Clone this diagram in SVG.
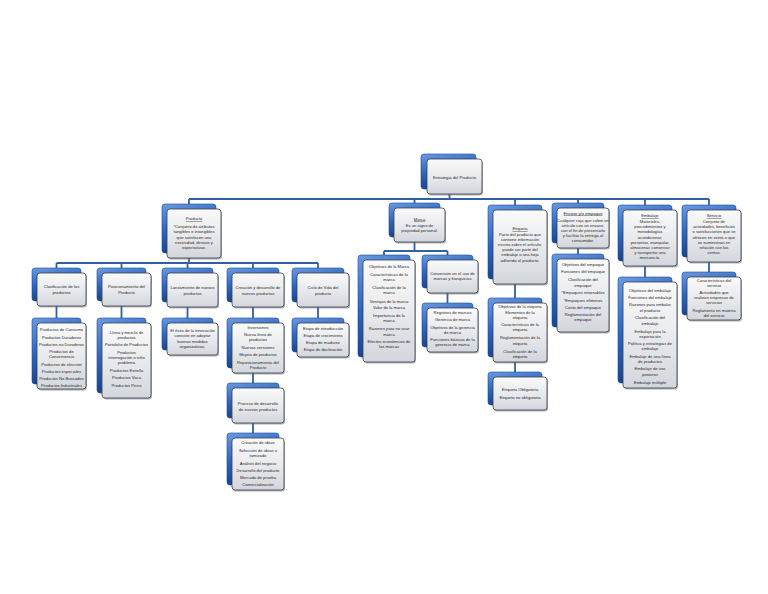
<svg xmlns="http://www.w3.org/2000/svg" width="768" height="594" viewBox="0 0 768 594">
<defs>
<linearGradient id="gb" x1="0" y1="0" x2="0.3" y2="1">
<stop offset="0" stop-color="#6a9be3"/>
<stop offset="0.5" stop-color="#2f66c0"/>
<stop offset="1" stop-color="#173f85"/>
</linearGradient>
<linearGradient id="gf" x1="0" y1="0" x2="0" y2="1">
<stop offset="0" stop-color="#fafafa"/>
<stop offset="0.5" stop-color="#e9eaed"/>
<stop offset="1" stop-color="#d3d6dc"/>
</linearGradient>
</defs>
<style>
.bk{fill:url(#gb);stroke:#1d4a93;stroke-width:0.6}
.sh{fill:#6b6f78;opacity:0.55}
.fr{fill:url(#gf);stroke:#3b404b;stroke-width:0.8}
.t{font-family:"Liberation Sans",Arial,sans-serif;font-size:4.15px;fill:#2a2a2a;text-anchor:middle;dominant-baseline:central}
.u{text-decoration:underline}
.c{fill:none;stroke:#33609f;stroke-width:1.8}
</style>
<rect width="768" height="594" fill="#ffffff"/>

<g id="connectors">
<path class="c" d="M449.5 194V199M189 199H709M189 199V204M414.5 199V203M515 199V205M578 199V203M645 199V205M709 199V205"/>
<path class="c" d="M189 258V263M56.5 263H318M56.5 263V268M121.5 263V268M187.5 263V268M253 263V268M318 263V268"/>
<path class="c" d="M56.5 306V318M121.5 306V318M187.5 307V318M253 307V318M318 307V318M253 373V383M253 423V433"/>
<path class="c" d="M414.5 242V251M384 251H447.5M384 251V255M447.5 251V255M447.5 293V303"/>
<path class="c" d="M515 284V298M515 362V372M578 248V254M645 266V277M709 262V272"/>
</g>

<g id="n-root">
<rect class="bk" x="421" y="154" width="55" height="35" rx="3"/>
<rect class="sh" x="428" y="160.5" width="55" height="35" rx="3"/>
<rect class="fr" x="427" y="159" width="55" height="35" rx="3"/>
<text class="t" x="454.5" y="177">Estrategia del Producto</text>
</g>

<g id="n-producto">
<rect class="bk" x="162" y="204" width="54" height="49" rx="3"/>
<rect class="sh" x="168" y="210.5" width="54" height="49" rx="3"/>
<rect class="fr" x="167" y="209" width="54" height="49" rx="3"/>
<text class="t" x="194"><tspan class="u" x="194" y="218">Producto</tspan><tspan x="194" y="226">*Conjunto de atributos</tspan><tspan x="194" y="231.3">tangibles e intangibles</tspan><tspan x="194" y="236.6">que satisfacen una</tspan><tspan x="194" y="241.9">necesidad, deseos y</tspan><tspan x="194" y="247.2">expectativas.</tspan></text>
</g>

<g id="n-marca">
<rect class="bk" x="389" y="203" width="51" height="34" rx="3"/>
<rect class="sh" x="395" y="209.5" width="51" height="34" rx="3"/>
<rect class="fr" x="394" y="208" width="51" height="34" rx="3"/>
<text class="t"><tspan class="u" x="419.5" y="218.5">Marca</tspan><tspan x="419.5" y="225">Es un signo de</tspan><tspan x="419.5" y="230.3">propiedad personal.</tspan></text>
</g>

<g id="n-etiqueta">
<rect class="bk" x="488" y="205" width="54" height="74" rx="3"/>
<rect class="sh" x="494" y="211.5" width="54" height="74" rx="3"/>
<rect class="fr" x="493" y="210" width="54" height="74" rx="3"/>
<text class="t"><tspan class="u" x="520" y="228">Etiqueta</tspan><tspan x="520" y="233.5">Parte del producto que</tspan><tspan x="520" y="238.7">contiene información</tspan><tspan x="520" y="243.9">escrita sobre el artículo;</tspan><tspan x="520" y="249.1">puede ser parte del</tspan><tspan x="520" y="254.3">embalaje o una hoja</tspan><tspan x="520" y="259.5">adherida al producto.</tspan></text>
</g>

<g id="n-envase">
<rect class="bk" x="552" y="203" width="52" height="40" rx="3"/>
<rect class="sh" x="558" y="209.5" width="52" height="40" rx="3"/>
<rect class="fr" x="557" y="208" width="52" height="40" rx="3"/>
<text class="t"><tspan class="u" x="583" y="212.5">Envase y/o empaque</tspan><tspan x="583" y="219.5">Cualquier caja que cubre un</tspan><tspan x="583" y="224.5">artículo con un envase,</tspan><tspan x="583" y="229.5">con el fin de preservarlo</tspan><tspan x="583" y="234.5">y facilitar la entrega al</tspan><tspan x="583" y="239.5">consumidor.</tspan></text>
</g>

<g id="n-embalaje">
<rect class="bk" x="618" y="205" width="54" height="56" rx="3"/>
<rect class="sh" x="624" y="211.5" width="54" height="56" rx="3"/>
<rect class="fr" x="623" y="210" width="54" height="56" rx="3"/>
<text class="t"><tspan class="u" x="650" y="215">Embalaje</tspan><tspan x="650" y="221">Materiales,</tspan><tspan x="650" y="226.2">procedimientos y</tspan><tspan x="650" y="231.4">metodologías</tspan><tspan x="650" y="236.6">acondicionar,</tspan><tspan x="650" y="241.8">presentar, manipular,</tspan><tspan x="650" y="247">almacenar, conservar</tspan><tspan x="650" y="252.2">y transportar una</tspan><tspan x="650" y="257.4">mercancía.</tspan></text>
</g>

<g id="n-servicio">
<rect class="bk" x="682" y="205" width="54" height="52" rx="3"/>
<rect class="sh" x="688" y="211.5" width="54" height="52" rx="3"/>
<rect class="fr" x="687" y="210" width="54" height="52" rx="3"/>
<text class="t"><tspan class="u" x="714" y="215">Servicio</tspan><tspan x="714" y="221">Conjunto de</tspan><tspan x="714" y="226.2">actividades, beneficios</tspan><tspan x="714" y="231.4">o satisfacciones que se</tspan><tspan x="714" y="236.6">ofrecen en venta o que</tspan><tspan x="714" y="241.8">se suministran en</tspan><tspan x="714" y="247">relación con las</tspan><tspan x="714" y="252.2">ventas.</tspan></text>
</g>

<g id="n-clasificacion">
<rect class="bk" x="32" y="268" width="49" height="33" rx="3"/>
<rect class="sh" x="38" y="274.5" width="49" height="33" rx="3"/>
<rect class="fr" x="37" y="273" width="49" height="33" rx="3"/>
<text class="t"><tspan x="61.5" y="286">Clasificación de los</tspan><tspan x="61.5" y="292">productos</tspan></text>
</g>

<g id="n-posicionamiento">
<rect class="bk" x="97" y="268" width="49" height="33" rx="3"/>
<rect class="sh" x="103" y="274.5" width="49" height="33" rx="3"/>
<rect class="fr" x="102" y="273" width="49" height="33" rx="3"/>
<text class="t"><tspan x="126.5" y="286">Posicionamiento del</tspan><tspan x="126.5" y="292">Producto</tspan></text>
</g>

<g id="n-lanzamiento">
<rect class="bk" x="162" y="268" width="51" height="34" rx="3"/>
<rect class="sh" x="168" y="274.5" width="51" height="34" rx="3"/>
<rect class="fr" x="167" y="273" width="51" height="34" rx="3"/>
<text class="t"><tspan x="192.5" y="287">Lanzamiento de nuevos</tspan><tspan x="192.5" y="292.5">productos</tspan></text>
</g>

<g id="n-creacion">
<rect class="bk" x="227" y="268" width="52" height="34" rx="3"/>
<rect class="sh" x="233" y="274.5" width="52" height="34" rx="3"/>
<rect class="fr" x="232" y="273" width="52" height="34" rx="3"/>
<text class="t"><tspan x="258" y="287">Creación y desarrollo de</tspan><tspan x="258" y="292.5">nuevos productos</tspan></text>
</g>

<g id="n-ciclo">
<rect class="bk" x="292" y="268" width="52" height="34" rx="3"/>
<rect class="sh" x="298" y="274.5" width="52" height="34" rx="3"/>
<rect class="fr" x="297" y="273" width="52" height="34" rx="3"/>
<text class="t"><tspan x="323" y="287">Ciclo de Vida del</tspan><tspan x="323" y="292.5">producto</tspan></text>
</g>

<g id="n-clasificacion-lista">
<rect class="bk" x="32" y="318" width="49" height="66" rx="3"/>
<rect class="sh" x="38" y="324.5" width="49" height="66" rx="3"/>
<rect class="fr" x="37" y="323" width="49" height="66" rx="3"/>
<text class="t"><tspan x="61.5" y="329.3">Productos de Consumo</tspan><tspan x="61.5" y="336.5">Productos Duraderos</tspan><tspan x="61.5" y="343.8">Productos no Duraderos</tspan><tspan x="61.5" y="351">Productos de</tspan><tspan x="61.5" y="356.3">Conveniencia</tspan><tspan x="61.5" y="363.5">Productos de elección</tspan><tspan x="61.5" y="370.8">Productos especiales</tspan><tspan x="61.5" y="378">Productos No Buscados</tspan><tspan x="61.5" y="385.2">Productos Industriales</tspan></text>
</g>

<g id="n-posicionamiento-lista">
<rect class="bk" x="97" y="318" width="49" height="75" rx="3"/>
<rect class="sh" x="103" y="324.5" width="49" height="75" rx="3"/>
<rect class="fr" x="102" y="323" width="49" height="75" rx="3"/>
<text class="t"><tspan x="126.5" y="331.7">Línea y mezcla de</tspan><tspan x="126.5" y="337">productos</tspan><tspan x="126.5" y="344.3">Portafolio de Productos</tspan><tspan x="126.5" y="351.7">Productos</tspan><tspan x="126.5" y="356.9">interrogación o niño</tspan><tspan x="126.5" y="362.1">problema</tspan><tspan x="126.5" y="370">Productos Estrella</tspan><tspan x="126.5" y="377.3">Productos Vaca</tspan><tspan x="126.5" y="384.7">Productos Perro</tspan></text>
</g>

<g id="n-lanzamiento-exito">
<rect class="bk" x="162" y="318" width="51" height="32" rx="3"/>
<rect class="sh" x="168" y="324.5" width="51" height="32" rx="3"/>
<rect class="fr" x="167" y="323" width="51" height="32" rx="3"/>
<text class="t"><tspan x="192.5" y="330">El éxito de la innovación</tspan><tspan x="192.5" y="335.3">consiste en adoptar</tspan><tspan x="192.5" y="340.6">buenas medidas</tspan><tspan x="192.5" y="346.4">organizativas.</tspan></text>
</g>

<g id="n-creacion-lista">
<rect class="bk" x="227" y="318" width="52" height="50" rx="3"/>
<rect class="sh" x="233" y="324.5" width="52" height="50" rx="3"/>
<rect class="fr" x="232" y="323" width="52" height="50" rx="3"/>
<text class="t"><tspan x="258" y="327">Inversiones</tspan><tspan x="258" y="334">Nueva línea de</tspan><tspan x="258" y="339.2">productos</tspan><tspan x="258" y="347">Nuevas versiones</tspan><tspan x="258" y="354">Mejora de productos</tspan><tspan x="258" y="361.5">Reposicionamiento del</tspan><tspan x="258" y="366.7">Producto</tspan></text>
</g>

<g id="n-ciclo-etapas">
<rect class="bk" x="292" y="318" width="52" height="34" rx="3"/>
<rect class="sh" x="298" y="324.5" width="52" height="34" rx="3"/>
<rect class="fr" x="297" y="323" width="52" height="34" rx="3"/>
<text class="t"><tspan x="323" y="327.5">Etapa de introducción</tspan><tspan x="323" y="334.5">Etapa de crecimiento</tspan><tspan x="323" y="341.7">Etapa de madurez</tspan><tspan x="323" y="349">Etapa de declinación</tspan></text>
</g>

<g id="n-proceso">
<rect class="bk" x="227" y="383" width="52" height="35" rx="3"/>
<rect class="sh" x="233" y="389.5" width="52" height="35" rx="3"/>
<rect class="fr" x="232" y="388" width="52" height="35" rx="3"/>
<text class="t"><tspan x="258" y="403.3">Proceso de desarrollo</tspan><tspan x="258" y="408.8">de nuevos productos</tspan></text>
</g>

<g id="n-ideas">
<rect class="bk" x="227" y="433" width="52" height="52" rx="3"/>
<rect class="sh" x="233" y="439.5" width="52" height="52" rx="3"/>
<rect class="fr" x="232" y="438" width="52" height="52" rx="3"/>
<text class="t"><tspan x="258" y="441.7">Creación de ideas</tspan><tspan x="258" y="449.7">Selección de ideas o</tspan><tspan x="258" y="455">tamizado</tspan><tspan x="258" y="463">Análisis del negocio</tspan><tspan x="258" y="470.3">Desarrollo del producto</tspan><tspan x="258" y="477">Mercado de prueba</tspan><tspan x="258" y="484">Comercialización</tspan></text>
</g>

<g id="n-marca-objetivos">
<rect class="bk" x="358" y="255" width="52" height="102" rx="3"/>
<rect class="sh" x="364" y="261.5" width="52" height="102" rx="3"/>
<rect class="fr" x="363" y="260" width="52" height="102" rx="3"/>
<text class="t"><tspan x="389" y="266">Objetivos de la Marca</tspan><tspan x="389" y="274">Características de la</tspan><tspan x="389" y="279.3">marca</tspan><tspan x="389" y="286.7">Clasificación de la</tspan><tspan x="389" y="292">marca</tspan><tspan x="389" y="300.5">Ventajas de la marca</tspan><tspan x="389" y="307.3">Valor de la marca</tspan><tspan x="389" y="315">Importancia de la</tspan><tspan x="389" y="320.2">marca</tspan><tspan x="389" y="328.3">Razones para no usar</tspan><tspan x="389" y="333.5">marca</tspan><tspan x="389" y="340.7">Efectos económicos de</tspan><tspan x="389" y="345.9">las marcas</tspan></text>
</g>

<g id="n-conversion">
<rect class="bk" x="422" y="255" width="51" height="33" rx="3"/>
<rect class="sh" x="428" y="261.5" width="51" height="33" rx="3"/>
<rect class="fr" x="427" y="260" width="51" height="33" rx="3"/>
<text class="t"><tspan x="452.5" y="272.7">Conversión en el uso de</tspan><tspan x="452.5" y="278.2">marcas y franquicias</tspan></text>
</g>

<g id="n-registros">
<rect class="bk" x="422" y="303" width="51" height="44" rx="3"/>
<rect class="sh" x="428" y="309.5" width="51" height="44" rx="3"/>
<rect class="fr" x="427" y="308" width="51" height="44" rx="3"/>
<text class="t"><tspan x="452.5" y="312.3">Registros de marcas</tspan><tspan x="452.5" y="319">Gerencia de marca</tspan><tspan x="452.5" y="326.5">Objetivos de la gerencia</tspan><tspan x="452.5" y="331.7">de marca</tspan><tspan x="452.5" y="339.2">Funciones básicas de la</tspan><tspan x="452.5" y="344.4">gerencia de marca</tspan></text>
</g>

<g id="n-etiqueta-objetivos">
<rect class="bk" x="488" y="298" width="54" height="59" rx="3"/>
<rect class="sh" x="494" y="304.5" width="54" height="59" rx="3"/>
<rect class="fr" x="493" y="303" width="54" height="59" rx="3"/>
<text class="t"><tspan x="520" y="305.5">Objetivos de la etiqueta</tspan><tspan x="520" y="311.7">Elementos de la</tspan><tspan x="520" y="316.9">etiqueta</tspan><tspan x="520" y="324">Características de la</tspan><tspan x="520" y="329.2">etiqueta</tspan><tspan x="520" y="337.3">Reglamentación de la</tspan><tspan x="520" y="342.5">etiqueta</tspan><tspan x="520" y="350.5">Clasificación de la</tspan><tspan x="520" y="355.7">etiqueta</tspan></text>
</g>

<g id="n-etiqueta-tipos">
<rect class="bk" x="488" y="372" width="54" height="33" rx="3"/>
<rect class="sh" x="494" y="378.5" width="54" height="33" rx="3"/>
<rect class="fr" x="493" y="377" width="54" height="33" rx="3"/>
<text class="t"><tspan x="520" y="389.3">Etiqueta Obligatoria</tspan><tspan x="520" y="396.7">Etiqueta no obligatoria</tspan></text>
</g>

<g id="n-envase-objetivos">
<rect class="bk" x="552" y="254" width="52" height="73" rx="3"/>
<rect class="sh" x="558" y="260.5" width="52" height="73" rx="3"/>
<rect class="fr" x="557" y="259" width="52" height="73" rx="3"/>
<text class="t"><tspan x="583" y="264">Objetivos del empaque</tspan><tspan x="583" y="270.7">Funciones del empaque</tspan><tspan x="583" y="279.3">Clasificación del</tspan><tspan x="583" y="284.5">empaque</tspan><tspan x="583" y="291.7">*Empaques retornables</tspan><tspan x="583" y="299.5">*Empaques efímeros</tspan><tspan x="583" y="306.7">Costo del empaque</tspan><tspan x="583" y="314">Reglamentación del</tspan><tspan x="583" y="319.2">empaque</tspan></text>
</g>

<g id="n-embalaje-objetivos">
<rect class="bk" x="618" y="277" width="54" height="106" rx="3"/>
<rect class="sh" x="624" y="283.5" width="54" height="106" rx="3"/>
<rect class="fr" x="623" y="282" width="54" height="106" rx="3"/>
<text class="t"><tspan x="650" y="290">Objetivos del embalaje</tspan><tspan x="650" y="297.3">Funciones del embalaje</tspan><tspan x="650" y="304.3">Razones para embalar</tspan><tspan x="650" y="309.7">el producto</tspan><tspan x="650" y="317.3">Clasificación del</tspan><tspan x="650" y="322.5">embalaje</tspan><tspan x="650" y="330.5">Embalaje para la</tspan><tspan x="650" y="335.7">exportación</tspan><tspan x="650" y="342.7">Política y estrategias de</tspan><tspan x="650" y="347.9">embalaje</tspan><tspan x="650" y="356">Embalaje de una línea</tspan><tspan x="650" y="361.2">de productos</tspan><tspan x="650" y="368.3">Embalaje de uso</tspan><tspan x="650" y="373.5">posterior</tspan><tspan x="650" y="381.5">Embalaje múltiple</tspan></text>
</g>

<g id="n-servicio-caracteristicas">
<rect class="bk" x="682" y="272" width="54" height="43" rx="3"/>
<rect class="sh" x="688" y="278.5" width="54" height="43" rx="3"/>
<rect class="fr" x="687" y="277" width="54" height="43" rx="3"/>
<text class="t"><tspan x="714" y="279.5">Características del</tspan><tspan x="714" y="284.5">servicio</tspan><tspan x="714" y="291.7">Actividades que</tspan><tspan x="714" y="297">realizan empresas de</tspan><tspan x="714" y="302.2">servicios</tspan><tspan x="714" y="309.8">Reglamento en materia</tspan><tspan x="714" y="315">del servicio</tspan></text>
</g>
</svg>
